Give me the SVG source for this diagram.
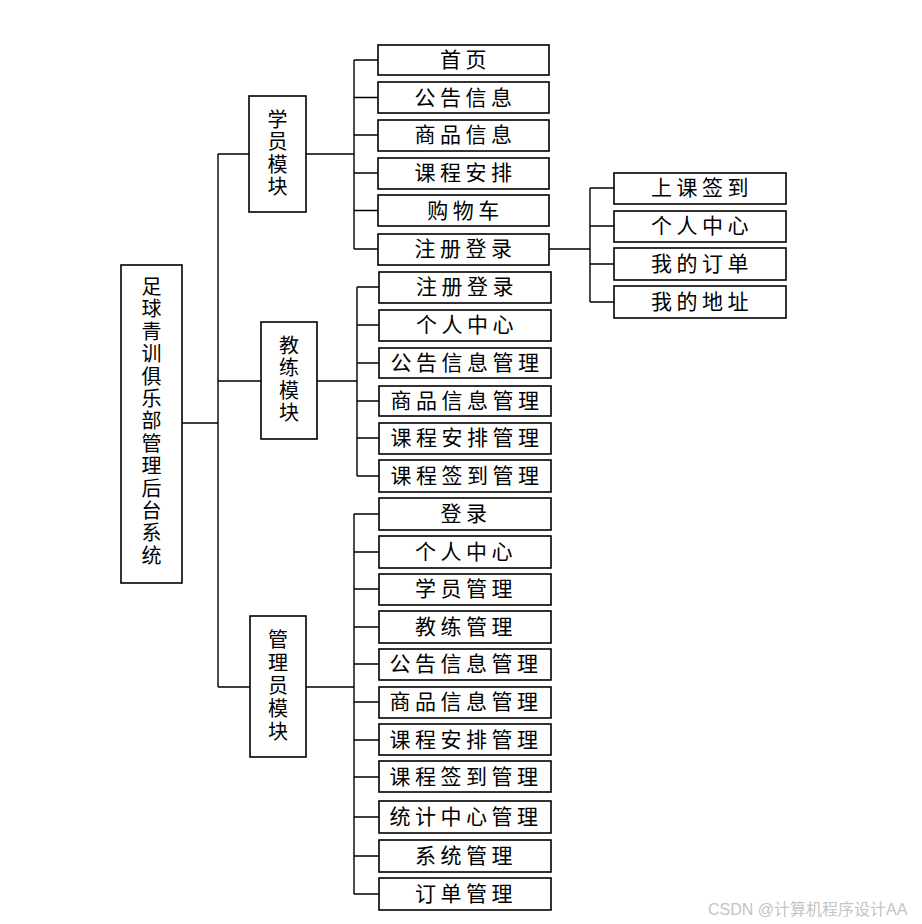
<svg xmlns="http://www.w3.org/2000/svg" width="922" height="924" viewBox="0 0 922 924">
<style>
.box{fill:#fff;stroke:#000;stroke-width:1.6}
.t{font-family:"Liberation Serif","Noto Sans CJK SC",serif;font-size:21px;letter-spacing:4.5px;fill:#000;text-anchor:middle;dominant-baseline:central}
.v{font-family:"Liberation Serif","Noto Sans CJK SC",serif;font-size:20px;fill:#000;text-anchor:middle}
.c{fill:none;stroke:#000;stroke-width:1.4}
.wm{font-family:"Liberation Sans","Noto Sans CJK SC",sans-serif;font-size:16px;fill:#c4c4c4}
</style>
<rect width="922" height="924" fill="#fff"/>
<g id="connectors">
<path class="c" d="M182,423 H218 M218,154 V687 M218,154 H249 M218,381 H261 M218,687 H250"/>
<path class="c" d="M306,154 H354 M354,60 V249 M354,60 H378 M354,97.5 H378 M354,135 H378 M354,173 H378 M354,210.5 H378 M354,249 H378"/>
<path class="c" d="M549,249 H590 M590,188 V302 M590,188 H614 M590,226 H614 M590,264 H614 M590,302 H614"/>
<path class="c" d="M317,381 H357 M357,287 V476 M357,287 H379 M357,325 H379 M357,363 H379 M357,401 H379 M357,438 H379 M357,476 H379"/>
<path class="c" d="M306,687 H354 M354,514 V894 M354,514 H379 M354,552 H379 M354,589 H379 M354,627 H379 M354,664 H379 M354,702 H379 M354,740 H379 M354,777 H379 M354,817 H379 M354,856 H379 M354,894 H379"/>
</g>
<g id="root"><rect class="box" x="121" y="265" width="61" height="318"/>
<text class="v" x="151.5" y="294"><tspan x="151.5">足</tspan><tspan x="151.5" dy="22.4">球</tspan><tspan x="151.5" dy="22.4">青</tspan><tspan x="151.5" dy="22.4">训</tspan><tspan x="151.5" dy="22.4">俱</tspan><tspan x="151.5" dy="22.4">乐</tspan><tspan x="151.5" dy="22.4">部</tspan><tspan x="151.5" dy="22.4">管</tspan><tspan x="151.5" dy="22.4">理</tspan><tspan x="151.5" dy="22.4">后</tspan><tspan x="151.5" dy="22.4">台</tspan><tspan x="151.5" dy="22.4">系</tspan><tspan x="151.5" dy="22.4">统</tspan></text></g>
<g id="student"><rect class="box" x="249" y="96" width="57" height="116"/>
<text class="v" x="277.5" y="127"><tspan x="277.5">学</tspan><tspan x="277.5" dy="22.3">员</tspan><tspan x="277.5" dy="22.3">模</tspan><tspan x="277.5" dy="22.3">块</tspan></text></g>
<g id="coach"><rect class="box" x="261" y="322" width="56" height="117"/>
<text class="v" x="289" y="353"><tspan x="289">教</tspan><tspan x="289" dy="22.4">练</tspan><tspan x="289" dy="22.4">模</tspan><tspan x="289" dy="22.4">块</tspan></text></g>
<g id="admin"><rect class="box" x="250" y="616" width="56" height="141"/>
<text class="v" x="278" y="647"><tspan x="278">管</tspan><tspan x="278" dy="22.9">理</tspan><tspan x="278" dy="22.9">员</tspan><tspan x="278" dy="22.9">模</tspan><tspan x="278" dy="22.9">块</tspan></text></g>
<g id="s1"><rect class="box" x="378" y="45" width="171" height="30"/><text class="t" x="465.5" y="60">首页</text></g>
<g id="s2"><rect class="box" x="378" y="82" width="171" height="31"/><text class="t" x="465.5" y="97.5">公告信息</text></g>
<g id="s3"><rect class="box" x="378" y="120" width="171" height="31"/><text class="t" x="465.5" y="135">商品信息</text></g>
<g id="s4"><rect class="box" x="378" y="158" width="171" height="31"/><text class="t" x="465.5" y="173">课程安排</text></g>
<g id="s5"><rect class="box" x="378" y="195" width="171" height="31"/><text class="t" x="465.5" y="210.5">购物车</text></g>
<g id="s6"><rect class="box" x="378" y="234" width="171" height="31"/><text class="t" x="465.5" y="249">注册登录</text></g>
<g id="u1"><rect class="box" x="614" y="173" width="172" height="31"/><text class="t" x="702" y="188">上课签到</text></g>
<g id="u2"><rect class="box" x="614" y="211" width="172" height="31"/><text class="t" x="702" y="226">个人中心</text></g>
<g id="u3"><rect class="box" x="614" y="248" width="172" height="32"/><text class="t" x="702" y="264">我的订单</text></g>
<g id="u4"><rect class="box" x="614" y="286" width="172" height="32"/><text class="t" x="702" y="302">我的地址</text></g>
<g id="c1"><rect class="box" x="379" y="272" width="172" height="31"/><text class="t" x="467" y="287">注册登录</text></g>
<g id="c2"><rect class="box" x="379" y="310" width="172" height="31"/><text class="t" x="467" y="325">个人中心</text></g>
<g id="c3"><rect class="box" x="379" y="348" width="172" height="30"/><text class="t" x="467" y="363">公告信息管理</text></g>
<g id="c4"><rect class="box" x="379" y="386" width="172" height="30"/><text class="t" x="467" y="401">商品信息管理</text></g>
<g id="c5"><rect class="box" x="379" y="423" width="172" height="31"/><text class="t" x="467" y="438">课程安排管理</text></g>
<g id="c6"><rect class="box" x="379" y="460" width="172" height="32"/><text class="t" x="467" y="476">课程签到管理</text></g>
<g id="a1"><rect class="box" x="379" y="498" width="172" height="32"/><text class="t" x="466" y="514">登录</text></g>
<g id="a2"><rect class="box" x="379" y="536" width="172" height="32"/><text class="t" x="466" y="552">个人中心</text></g>
<g id="a3"><rect class="box" x="379" y="574" width="172" height="31"/><text class="t" x="466" y="589">学员管理</text></g>
<g id="a4"><rect class="box" x="379" y="611" width="172" height="32"/><text class="t" x="466" y="627">教练管理</text></g>
<g id="a5"><rect class="box" x="379" y="649" width="172" height="31"/><text class="t" x="466" y="664">公告信息管理</text></g>
<g id="a6"><rect class="box" x="379" y="687" width="172" height="31"/><text class="t" x="466" y="702">商品信息管理</text></g>
<g id="a7"><rect class="box" x="379" y="724" width="172" height="31"/><text class="t" x="466" y="740">课程安排管理</text></g>
<g id="a8"><rect class="box" x="379" y="761" width="172" height="31"/><text class="t" x="466" y="777">课程签到管理</text></g>
<g id="a9"><rect class="box" x="379" y="801" width="172" height="32"/><text class="t" x="466" y="817">统计中心管理</text></g>
<g id="a10"><rect class="box" x="379" y="840" width="172" height="32"/><text class="t" x="466" y="856">系统管理</text></g>
<g id="a11"><rect class="box" x="379" y="878" width="172" height="32"/><text class="t" x="466" y="894">订单管理</text></g>
<text class="wm" x="708" y="915">CSDN @计算机程序设计AA</text>
</svg>
